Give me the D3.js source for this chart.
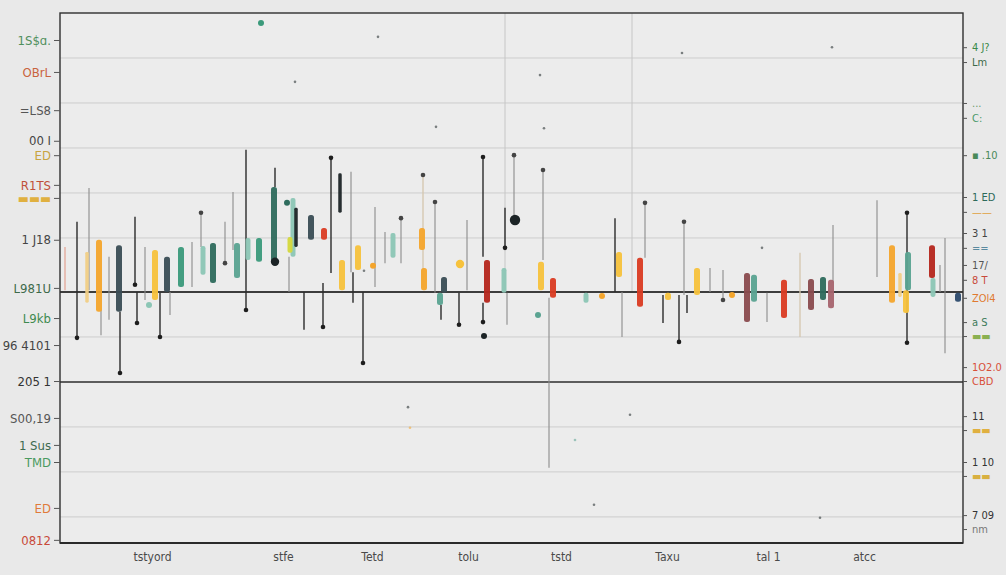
<!DOCTYPE html>
<html><head><meta charset="utf-8">
<script src="https://cdn.jsdelivr.net/npm/d3@7"></script>
<style>
html,body{margin:0;padding:0;background:#e9e9e9;}
svg{display:block;}
text{font-family:"Liberation Sans Narrow","DejaVu Sans Condensed","Liberation Sans",sans-serif;}
</style></head>
<body><svg id="c" width="1006" height="575"></svg>
<script>
// ---------- data ----------
// bars: [time index, high, low, series]
const bars = [
 [5.4, 8.9, -2.4, "paleYellow"], [7.8, 11.6, -4.4, "orange"], [11.8, 10.4, -4.4, "slate"],
 [19, 9.3, -1.8, "yellow"], [21.4, 7.8, 0, "slate"], [24.2, 10, 1.1, "green"],
 [28.6, 10.2, 3.8, "mint"], [30.6, 10.9, 2, "pine"], [35.4, 10.9, 3.1, "teal"],
 [37.6, 12, 7.1, "mint"], [39.8, 12, 6.7, "green"], [42.8, 23.3, 6.4, "pine"],
 [46.6, 20.9, 7.8, "mint"], [46, 12.2, 8.7, "lime"], [47.2, 18.7, 10, "ink"],
 [50.2, 17.1, 11.6, "slate"], [52.8, 14.2, 11.6, "red"], [56, 26.4, 17.6, "ink"],
 [56.4, 7.1, 0.4, "yellow"], [59.6, 10.4, 4.9, "yellow"], [66.6, 13.1, 7.6, "mint"],
 [72.4, 14.2, 9.3, "orange"], [72.8, 5.3, 0.4, "orange"], [76.8, 3.3, -0.2, "slate"],
 [76, -0.2, -2.9, "teal"], [85.4, 7.1, -2.4, "crimson"], [88.8, 5.3, -0.2, "mint"],
 [96.2, 6.7, 0.4, "yellow"], [98.6, 3.1, -1.3, "red"], [105.2, -0.2, -2.4, "mint"],
 [111.8, 8.9, 3.3, "yellow"], [116, 7.6, -3.3, "red"], [121.6, -0.2, -1.8, "yellow"],
 [127.4, 5.3, -0.7, "yellow"], [137.4, 4.2, -6.7, "maroon"], [138.8, 3.8, -2.2, "teal"],
 [144.8, 2.7, -5.8, "red"], [150.2, 2.9, -4, "maroon"], [152.6, 3.3, -1.8, "pine"],
 [154.2, 2.7, -3.6, "mauve"], [166.4, 10.4, -2.4, "orange"], [168, 4.2, -1.1, "paleYellow"],
 [169.2, 0.4, -4.7, "yellow"], [169.6, 8.9, 0.4, "teal"], [174.4, 10.4, 3.1, "crimson"],
 [174.6, 3.1, -1.1, "mint"], [179.6, -0.2, -2.2, "navy"]
];
// wicks: [time index, high, low, end dot, tone]
const wicks = [
 [1, 10, 0.4, "", "salmon"], [3.4, 15.6, -10.2, "b", "dark"], [5.8, 23.1, 0.4, "", "gray"],
 [8.2, -4, -9.6, "", "gray"], [9.8, 7.8, -6.2, "", "gray"], [12, -4.4, -18, "b", "dark"],
 [15, 16.7, 1.6, "b", "dark"], [15.4, 0, -6.9, "b", "dark"], [17, 10, -1.8, "", "gray"],
 [20, -0.2, -10, "b", "dark"], [22, 0, -5.1, "", "gray"], [26.4, 11.1, 1.1, "", "gray"],
 [28.2, 17.6, 10, "t", "gray"], [33, 15.6, 6.4, "b", "gray"], [34.6, 22.2, 9.3, "", "gray"],
 [37.2, 31.6, -4, "b", "dark"], [43, 27.6, 23.3, "", "dark"], [45.8, 7.8, 0, "", "gray"],
 [48.8, 0, -8.4, "", "dark"], [52.6, 2, -7.8, "b", "dark"], [54.2, 29.8, 4.2, "t", "dark"],
 [58.2, 26.7, 4.4, "", "gray"], [58.6, 4.4, -2.4, "", "dark"], [60.6, 0, -15.8, "b", "dark"],
 [63, 18.9, 1.1, "", "gray"], [65, 13.3, 6.4, "", "gray"], [68.2, 16.4, 6.4, "t", "gray"],
 [72.6, 26, 1.1, "t", "beige"], [75, 20, -0.2, "t", "gray"], [76.2, -2.9, -6.2, "", "dark"],
 [79.8, -0.2, -7.3, "b", "dark"], [81.4, 16, 0.4, "", "gray"], [84.6, 30, 7.8, "t", "dark"],
 [84.6, -2.4, -6.7, "b", "dark"], [89, 18.7, 9.8, "b", "dark"], [89.4, -0.2, -7.3, "", "gray"],
 [90.8, 30.4, 16, "t", "gray"], [96.6, 27.1, 7.1, "t", "gray"], [97.8, -1.3, -39.1, "", "gray"],
 [111, 16.4, 0, "", "dark"], [112.4, 0, -10, "", "gray"], [117, 19.8, 7.6, "t", "gray"],
 [120.6, -0.7, -6.9, "", "dark"], [123.8, -0.7, -11.1, "b", "dark"], [124.8, 15.6, -0.7, "t", "gray"],
 [125.4, -0.7, -4.7, "", "dark"], [130, 5.3, 0, "", "gray"], [132.6, 4.9, -1.8, "b", "gray"],
 [141.4, -0.2, -6.7, "", "gray"], [148, 8.7, -10, "", "beige"], [154.6, 14.9, 2, "", "gray"],
 [163.4, 20.4, 3.3, "", "gray"], [169.4, 17.6, -11.3, "tb", "dark"], [177, 12, -13.6, "", "gray"],
 [176, 6, 0, "", "gray"]
];
// loose points: [time index, value, kind, tone]
const points = [
 [43, 6.7, "blob", "ink"], [91, 16, "big", "ink"], [84.8, -9.8, "dot", "ink"],
 [95.6, -5.1, "dot", "teal"], [80, 6.2, "blob", "yellow"], [45.4, 19.8, "dot", "pine"],
 [17.8, -2.9, "dot", "mint"], [62.6, 5.8, "dot", "orange"], [60.8, 4.7, "speck", "ink"],
 [108.4, -0.9, "dot", "orange"], [134.4, -0.7, "dot", "orange"], [40.2, 59.8, "dot", "green"],
 [63.6, 56.7, "speck", "ink"], [47, 46.7, "speck", "ink"], [96.8, 36.4, "speck", "ink"],
 [96, 48.2, "speck", "ink"], [75.2, 36.7, "speck", "ink"], [69.6, -25.6, "speck", "ink"],
 [70, -30.2, "speck", "orange"], [103, -32.9, "speck", "teal"], [114, -27.3, "speck", "ink"],
 [124.4, 53.1, "speck", "ink"], [154.4, 54.4, "speck", "ink"], [152, -50.2, "speck", "ink"],
 [106.8, -47.3, "speck", "ink"], [140.4, 9.8, "speck", "ink"]
];
const gridValues = [52, 42, 32, 22, 12, -10, -30, -40, -50];
const refLines = [0, -20];
const vGrid = [89, 114.4];
const xTickValues = [18.4, 44.6, 62.4, 81.6, 100.2, 121.4, 141.6, 160.8];
const xTickLabels = ["tstyord", "stfe", "Tetd", "tolu", "tstd", "Taxu", "tal 1", "atcc"];
const leftTickValues = [56, 48.9, 40.4, 33.6, 30.4, 23.8, 20.9, 11.6, 0.9, -5.8, -11.8, -19.8, -28, -34, -37.8, -48, -55.1];
const leftTickLabels = ["1S$ɑ.", "OBrL", "=LS8", "00 I", "ED", "R1TS", "▬▬▬", "1 J18", "L981U", "L9kb", "96 4101", "205 1", "S00,19", "1 Sus", "TMD", "ED", "0812"];
const rightTickValues = [54.4, 51.1, 42, 38.7, 30.4, 21.1, 17.8, 13.1, 9.8, 6, 2.7, -1.3, -6.7, -9.8, -16.7, -19.8, -27.6, -30.7, -37.8, -40.9, -49.6, -52.7];
const rightTickLabels = ["4 J?", "Lm", "...", "C:", "▪ .10", "1 ED", "——", "3 1", "==", "17/", "8 T", "ZOl4", "a S", "▬▬", "1O2.0", "CBD", "11", "▬▬", "1 10", "▬▬", "7 09", "nm"];

// ---------- styles ----------
const seriesColor = {paleYellow:"#f1cf86", orange:"#f4a52c", slate:"#3a4d55", yellow:"#f7c23c",
  green:"#3b9a7b", mint:"#8cc6b5", pine:"#2e6c5d", teal:"#5aa391", lime:"#d4d83c", ink:"#1c2426",
  red:"#da3b22", crimson:"#b5261c", maroon:"#8a4b4e", mauve:"#a6646e", navy:"#2c4a6d"};
const seriesWidth = {paleYellow:3.5, ink:3.5, lime:5, mint:5};
const wickTone = {dark:["#2b2b2b",1.4], gray:["#8c8c8c",1.1], salmon:["#e3a291",1.2], beige:["#d5c6ae",1.3]};
const pointR = {blob:4.2, big:5.2, dot:3, speck:1.3};
const leftColors = ["#4f8f5c","#c9643e","#555","#444","#c8a440","#c0503a","#e0b040","#444","#3d6a4a","#3f8a50","#444","#333","#555","#3d6a50","#4a9a60","#e07a3a","#c84a3a"];
const rightColors = ["#3a8a4a","#3d6a4a","#6a9a6a","#4a9a6a","#4a8a5a","#2d6a5a","#e0a040","#444","#5a8aa0","#555","#c84a3a","#e07a30","#3d7a5a","#8ab050","#d8503a","#d8503a","#333","#e0b040","#333","#d8b040","#333","#777"];

// ---------- chart ----------
const W = 1006, H = 575;
const m = {l:60, r:43, t:13, b:32};
const svg = d3.select("#c");
const x = d3.scaleLinear().domain([0, 180]).range([m.l, m.l + 900]);
const y = d3.scaleLinear().domain([-55.8, 62]).range([H - m.b, m.t]);
const right = W - m.r;

svg.append("rect").attr("x", m.l).attr("y", m.t).attr("width", right - m.l).attr("height", H - m.b - m.t)
  .attr("fill", "#ececec");

// grid
svg.append("g").selectAll("line").data(gridValues).join("line")
  .attr("x1", m.l).attr("x2", right).attr("y1", d => y(d)).attr("y2", d => y(d))
  .attr("stroke", "#cdcdcd").attr("stroke-width", 1);
svg.append("g").selectAll("line").data(vGrid).join("line")
  .attr("x1", d => x(d)).attr("x2", d => x(d)).attr("y1", m.t).attr("y2", y(0))
  .attr("stroke", "#c6c6c6").attr("stroke-width", 1);
svg.append("g").selectAll("line").data(refLines).join("line")
  .attr("x1", m.l).attr("x2", right).attr("y1", d => y(d)).attr("y2", d => y(d))
  .attr("stroke", (d, i) => i === 0 ? "#3d3d3d" : "#2e2e2e").attr("stroke-width", (d, i) => i === 0 ? 2 : 1.6);

// wicks
const wg = svg.append("g");
wg.selectAll("line").data(wicks).join("line")
  .attr("x1", d => x(d[0])).attr("x2", d => x(d[0]))
  .attr("y1", d => y(d[1])).attr("y2", d => y(d[2]))
  .attr("stroke", d => wickTone[d[4]][0]).attr("stroke-width", d => wickTone[d[4]][1]);
const ends = [];
wicks.forEach(d => {
  if (d[3].includes("t")) ends.push([d[0], d[1], d[4]]);
  if (d[3].includes("b")) ends.push([d[0], d[2], d[4]]);
});
wg.selectAll("circle").data(ends).join("circle")
  .attr("cx", d => x(d[0])).attr("cy", d => y(d[1])).attr("r", 2.3)
  .attr("fill", d => d[2] === "dark" ? "#1e1e1e" : "#444");

// bars
svg.append("g").selectAll("rect").data(bars).join("rect")
  .attr("x", d => x(d[0]) - (seriesWidth[d[3]] || 6) / 2)
  .attr("width", d => seriesWidth[d[3]] || 6)
  .attr("y", d => y(d[1]))
  .attr("height", d => Math.max(2, y(d[2]) - y(d[1])))
  .attr("rx", d => (seriesWidth[d[3]] || 6) / 2.4)
  .attr("fill", d => seriesColor[d[3]]).attr("opacity", 0.95);

// points
svg.append("g").selectAll("circle").data(points).join("circle")
  .attr("cx", d => x(d[0])).attr("cy", d => y(d[1])).attr("r", d => pointR[d[2]])
  .attr("fill", d => seriesColor[d[3]]).attr("opacity", d => d[2] === "speck" ? 0.55 : 1);

// frame
svg.append("rect").attr("x", m.l).attr("y", m.t).attr("width", right - m.l).attr("height", H - m.b - m.t)
  .attr("fill", "none").attr("stroke", "#2f2f2f").attr("stroke-width", 1.4);
svg.append("line").attr("x1", m.l).attr("x2", right).attr("y1", H - m.b).attr("y2", H - m.b)
  .attr("stroke", "#2a2a2a").attr("stroke-width", 2.2);

// axes
const xAxis = d3.axisBottom(x).tickValues(xTickValues).tickSize(0).tickPadding(9)
  .tickFormat((d, i) => xTickLabels[i]);
const gx = svg.append("g").attr("transform", `translate(0,${H - m.b})`).call(xAxis);
gx.select(".domain").remove();
gx.selectAll("text").attr("font-size", 12).attr("fill", "#4a4a4a");

const yl = d3.axisLeft(y).tickValues(leftTickValues).tickSize(6).tickPadding(3)
  .tickFormat((d, i) => leftTickLabels[i]);
const gl = svg.append("g").attr("transform", `translate(${m.l},0)`).call(yl);
gl.select(".domain").remove();
gl.selectAll("line").attr("stroke", "#555");
gl.selectAll("text").attr("font-size", 13).attr("fill", (d, i) => leftColors[i]);

const yr = d3.axisRight(y).tickValues(rightTickValues).tickSize(4).tickPadding(5)
  .tickFormat((d, i) => rightTickLabels[i]);
const gr = svg.append("g").attr("transform", `translate(${right},0)`).call(yr);
gr.select(".domain").remove();
gr.selectAll("line").attr("stroke", "#555");
gr.selectAll("text").attr("font-size", 11).attr("fill", (d, i) => rightColors[i]);
</script></body></html>
